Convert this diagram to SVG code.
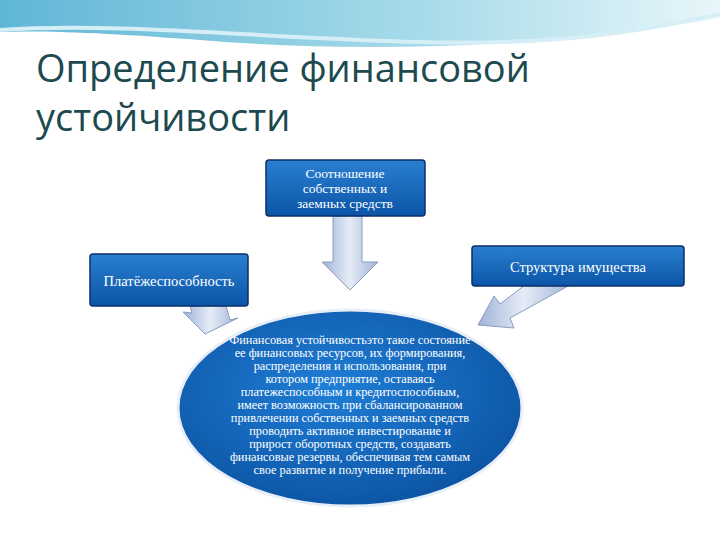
<svg xmlns="http://www.w3.org/2000/svg" width="720" height="540" viewBox="0 0 720 540">
<defs>
<linearGradient id="sky" x1="0" y1="0" x2="1" y2="0"><stop offset="0" stop-color="#5fb6d6"/><stop offset="0.6" stop-color="#a9dcea"/><stop offset="1" stop-color="#e8f6fa"/></linearGradient>
<linearGradient id="box" x1="0" y1="0" x2="0" y2="1"><stop offset="0" stop-color="#2a7fd0"/><stop offset="1" stop-color="#0b55a8"/></linearGradient>
<radialGradient id="ell" cx="0.45" cy="0.4" r="0.7"><stop offset="0" stop-color="#1f7ed6"/><stop offset="1" stop-color="#0a4f9e"/></radialGradient>
<linearGradient id="arr" x1="0" y1="0" x2="1" y2="0"><stop offset="0" stop-color="#9fb3d6"/><stop offset="0.5" stop-color="#e6ecf7"/><stop offset="1" stop-color="#9fb3d6"/></linearGradient>
</defs>
<style>
.t{font-family:"Liberation Serif",serif;fill:#fff;text-anchor:middle}
.b{fill:url(#box);stroke:#0b2f66;stroke-width:1.5}
.a{fill:url(#arr);stroke:#8a9cc0;stroke-width:1}
</style>
<rect width="720" height="540" fill="#fff"/>
<path d="M0 0H720V18C560 45 380 55 200 40C120 34 50 30 0 32Z" fill="url(#sky)"/>
<path d="M0 30C120 22 260 38 420 42C560 46 650 30 720 14" fill="none" stroke="#d6eef6" stroke-width="4"/>
<g font-family="Open Sans, sans-serif" font-size="38" fill="#1d4a4f">
<text x="36" y="82">Определение финансовой</text>
<text x="36" y="131">устойчивости</text>
</g>
<g id="connectors">
<polygon class="a" points="333,216 362,216 362,262 378,262 350,290 322,262 333,262"/>
<polygon class="a" points="190,306 226,306 230,320 238,318 205,334 183,312 192,313"/>
<polygon class="a" points="525,285 570,285 510,318 514,328 478,325 494,296 500,304"/>
</g>
<g id="center"><ellipse cx="350" cy="408" rx="172" ry="98" fill="url(#ell)" stroke="#e8eef8" stroke-width="3"/>
<g class="t" font-size="12.3">
<text x="350" y="344">Финансовая устойчивостьэто такое состояние</text>
<text x="350" y="357">ее финансовых ресурсов, их формирования,</text>
<text x="350" y="370">распределения и использования, при</text>
<text x="350" y="383">котором предприятие, оставаясь</text>
<text x="350" y="396">платежеспособным и кредитоспособным,</text>
<text x="350" y="409">имеет возможность при сбалансированном</text>
<text x="350" y="422">привлечении собственных и заемных средств</text>
<text x="350" y="435">проводить активное инвестирование и</text>
<text x="350" y="448">прирост оборотных средств, создавать</text>
<text x="350" y="461">финансовые резервы, обеспечивая тем самым</text>
<text x="350" y="474">свое развитие и получение прибыли.</text>
</g></g>
<g id="top"><rect class="b" x="266" y="160" width="159" height="56" rx="3"/>
<g class="t" font-size="13.5"><text x="345" y="178">Соотношение</text><text x="345" y="193">собственных и</text><text x="345" y="208">заемных средств</text></g></g>
<g id="left"><rect class="b" x="90" y="254" width="158" height="52" rx="3"/>
<text class="t" x="169" y="286" font-size="14.5">Платёжеспособность</text></g>
<g id="right"><rect class="b" x="472" y="246" width="212" height="40" rx="3"/>
<text class="t" x="578" y="272" font-size="14.5">Структура имущества</text></g>
</svg>
